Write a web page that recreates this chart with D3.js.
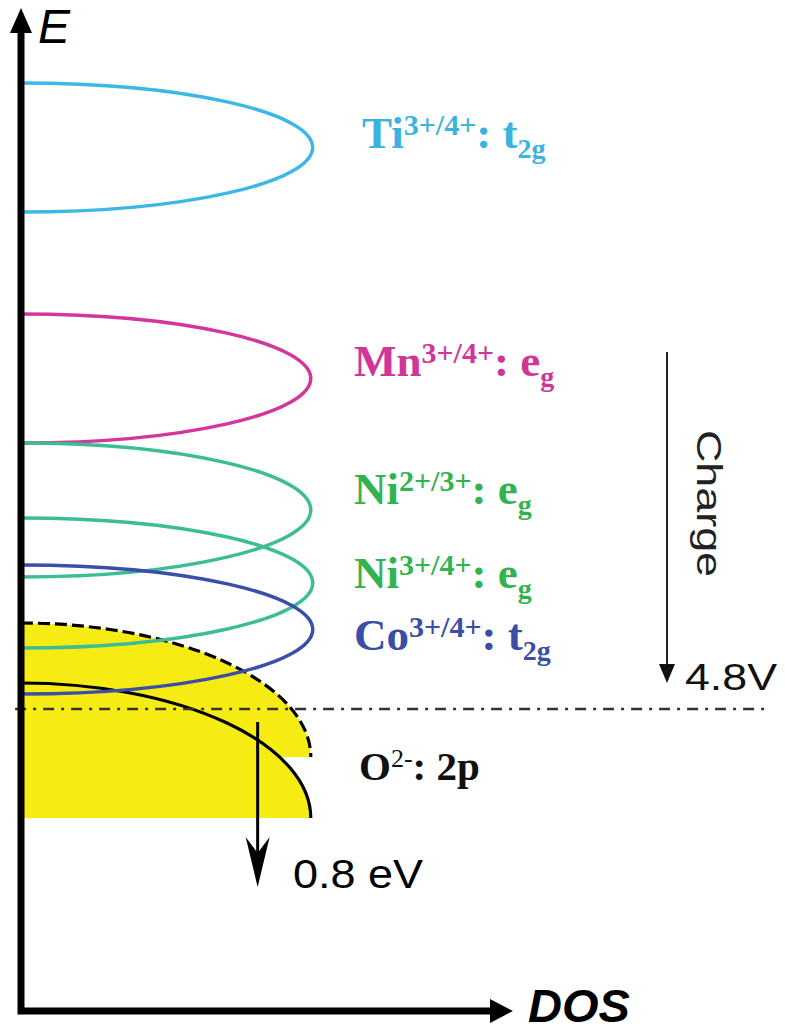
<!DOCTYPE html>
<html>
<head>
<meta charset="utf-8">
<script src="https://cdn.jsdelivr.net/npm/d3@7"></script>
<style>
  html, body { margin: 0; padding: 0; background: #fff; }
  svg { display: block; }
  .serif { font-family: "Liberation Serif", "Times New Roman", serif; font-weight: bold; }
  .sans { font-family: "Liberation Sans", Arial, sans-serif; }
</style>
</head>
<body>
<div id="chart"></div>
<script>
// energy levels (arbitrary energy units, DOS units)
var bandNames = ["Ti", "Mn", "Ni", "Ni", "Co"];
var bandCharges = ["3+/4+", "3+/4+", "2+/3+", "3+/4+", "3+/4+"];
var bandOrbitals = ["t", "e", "e", "e", "t"];
var bandOrbitalSubs = ["2g", "g", "g", "g", "2g"];
var bandTop = [92.8, 69.7, 56.8, 49.3, 44.6];
var bandBottom = [79.9, 56.8, 43.4, 36.3, 31.7];
var bandDos = [59.3, 58.9, 58.9, 59.3, 59.3];
var bandColors = ["#3db8e4", "#d3369d", "#3dbd95", "#3dbd95", "#3b4ea8"];
var labelColors = ["#3ab3df", "#d0359a", "#33b34f", "#33b34f", "#3a4ea6"];
var labelShift = [0, -3, -6, 5, 20]; // px, label baseline vs band centre

// O 2p band: before charge (dashed) and after (solid)
var o2pTop = [38.8, 32.8];
var o2pBottom = [25.4, 19.3];
var o2pDos = [58.9, 58.9];

var cutoffEnergy = 30.2;          // 4.8 V line
var shiftFrom = 28.9, shiftTo = 12.4, shiftDos = 48.1;   // 0.8 eV
var chargeFrom = 65.9, chargeTo = 32.8, chargeDos = 131.3;

var width = 785, height = 1031;

var svg = d3.select("#chart")
  .append("svg")
  .attr("width", width)
  .attr("height", height);

var xScale = d3.scaleLinear().domain([0, 100]).range([21, 513]);
var yScale = d3.scaleLinear().domain([0, 100]).range([1011, 11]);

// quarter ellipse of the O 2p band, closed for the fill
function quarter(i, closed) {
  var x0 = xScale(0), yt = yScale(o2pTop[i]), yb = yScale(o2pBottom[i]);
  var rx = xScale(o2pDos[i]) - x0, ry = yb - yt;
  var arc = " A" + rx + "," + ry + " 0 0 1 " + (x0 + rx) + "," + yb;
  if (closed) return "M" + x0 + "," + yb + " L" + x0 + "," + yt + arc + " Z";
  return "M" + x0 + "," + yt + arc;
}

svg.selectAll(".o2p-fill")
  .data([0, 1])
  .enter().append("path")
  .attr("class", "o2p-fill")
  .attr("d", function(i) { return quarter(i, true); })
  .attr("fill", "#f6ec14");

svg.selectAll(".o2p-line")
  .data([0, 1])
  .enter().append("path")
  .attr("class", "o2p-line")
  .attr("d", function(i) { return quarter(i, false); })
  .attr("fill", "none")
  .attr("stroke", "#000")
  .attr("stroke-width", 3.2)
  .attr("stroke-dasharray", function(i) { return i == 0 ? "12,5" : null; });

// 4.8 V cut-off line
svg.append("line")
  .attr("x1", xScale(-1.2)).attr("x2", xScale(151.5))
  .attr("y1", yScale(cutoffEnergy)).attr("y2", yScale(cutoffEnergy))
  .attr("stroke", "#333")
  .attr("stroke-width", 2.4)
  .attr("stroke-dasharray", "11,7,3,7");

// d-bands as half ellipses on the E axis
svg.selectAll(".band")
  .data(bandTop)
  .enter().append("path")
  .attr("class", "band")
  .attr("d", function(d, i) {
    var x0 = xScale(0), yt = yScale(bandTop[i]), yb = yScale(bandBottom[i]);
    var rx = xScale(bandDos[i]) - x0, ry = (yb - yt) / 2;
    return "M" + x0 + "," + yt + " A" + rx + "," + ry + " 0 0 1 " + x0 + "," + yb;
  })
  .attr("fill", "none")
  .attr("stroke", function(d, i) { return bandColors[i]; })
  .attr("stroke-width", 3.5);

// band labels
var labels = svg.selectAll(".band-label")
  .data(bandNames)
  .enter().append("text")
  .attr("class", "band-label serif")
  .attr("x", function(d, i) { return i == 0 ? 362 : 354; })
  .attr("y", function(d, i) { return (yScale(bandTop[i]) + yScale(bandBottom[i])) / 2 + labelShift[i]; })
  .attr("fill", function(d, i) { return labelColors[i]; })
  .style("font-size", "45px");

labels.append("tspan").text(function(d) { return d; });
labels.append("tspan").attr("dy", -13).style("font-size", "30px")
  .text(function(d, i) { return bandCharges[i]; });
labels.append("tspan").attr("dy", 13).text(function(d, i) { return ": " + bandOrbitals[i]; });
labels.append("tspan").attr("dy", 10).style("font-size", "28px")
  .text(function(d, i) { return bandOrbitalSubs[i]; });

var oLabel = svg.append("text")
  .attr("class", "serif")
  .attr("x", 359).attr("y", 780)
  .attr("fill", "#111")
  .style("font-size", "41px");
oLabel.append("tspan").text("O");
oLabel.append("tspan").attr("dy", -13).style("font-size", "26px").style("font-weight", "normal").text("2-");
oLabel.append("tspan").attr("dy", 13).text(": 2p");

// 0.8 eV shift arrow
var sx = xScale(shiftDos);
svg.append("line")
  .attr("x1", sx).attr("x2", sx)
  .attr("y1", yScale(shiftFrom)).attr("y2", yScale(shiftTo) - 20)
  .attr("stroke", "#000").attr("stroke-width", 3);
svg.append("path")
  .attr("d", "M" + sx + "," + yScale(shiftTo) + " L" + (sx - 12) + "," + (yScale(shiftTo) - 50) +
    " L" + sx + "," + (yScale(shiftTo) - 34) + " L" + (sx + 12) + "," + (yScale(shiftTo) - 50) + " Z")
  .attr("fill", "#000");
svg.append("text")
  .attr("class", "sans")
  .attr("x", 293).attr("y", 888)
  .attr("textLength", 130).attr("lengthAdjust", "spacingAndGlyphs")
  .style("font-size", "41px")
  .text("0.8 eV");

// charge arrow
var cx = xScale(chargeDos);
svg.append("line")
  .attr("x1", cx).attr("x2", cx)
  .attr("y1", yScale(chargeFrom)).attr("y2", yScale(chargeTo) - 14)
  .attr("stroke", "#222").attr("stroke-width", 2);
svg.append("path")
  .attr("d", "M" + cx + "," + yScale(chargeTo) + " L" + (cx - 8) + "," + (yScale(chargeTo) - 19) +
    " L" + (cx + 8) + "," + (yScale(chargeTo) - 19) + " Z")
  .attr("fill", "#111");
svg.append("text")
  .attr("class", "sans")
  .attr("transform", "translate(697,430) rotate(90)")
  .attr("textLength", 147).attr("lengthAdjust", "spacingAndGlyphs")
  .attr("fill", "#222")
  .style("font-size", "35px")
  .text("Charge");
svg.append("text")
  .attr("class", "sans")
  .attr("x", 685).attr("y", 690)
  .attr("textLength", 92).attr("lengthAdjust", "spacingAndGlyphs")
  .attr("fill", "#111")
  .style("font-size", "36px")
  .text("4.8V");

// axes with arrow heads
var ax = xScale(0), ay = yScale(0);
svg.append("path")
  .attr("d", "M" + ax + "," + (yScale(100) + 18) + " L" + ax + "," + ay + " L" + (xScale(100) - 18) + "," + ay)
  .attr("fill", "none")
  .attr("stroke", "#000")
  .attr("stroke-width", 7)
  .attr("stroke-linejoin", "miter");
svg.append("path")
  .attr("d", "M" + ax + "," + (yScale(100) - 3) + " L" + (ax - 11) + "," + (yScale(100) + 22) +
    " L" + (ax + 11) + "," + (yScale(100) + 22) + " Z")
  .attr("fill", "#000");
svg.append("path")
  .attr("d", "M" + xScale(100) + "," + ay + " L" + (xScale(100) - 23) + "," + (ay - 12) +
    " L" + (xScale(100) - 23) + "," + (ay + 12) + " Z")
  .attr("fill", "#000");

svg.append("text")
  .attr("class", "sans")
  .attr("x", 38).attr("y", 43)
  .style("font-size", "48px").style("font-style", "italic")
  .text("E");
svg.append("text")
  .attr("class", "sans")
  .attr("x", 528).attr("y", 1022)
  .style("font-size", "47px").style("font-style", "italic").style("font-weight", "bold")
  .text("DOS");
</script>
</body>
</html>
